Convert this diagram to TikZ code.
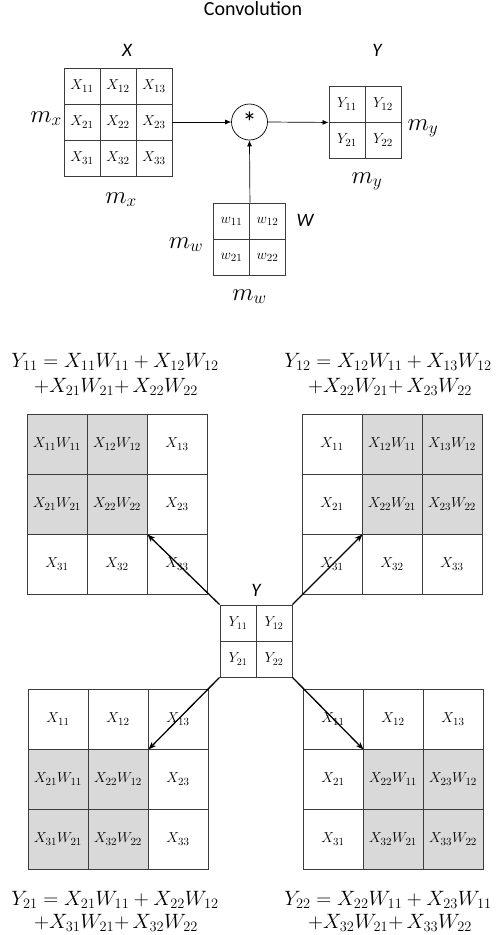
\documentclass[tikz,border=0pt]{standalone}
\usepackage{fontspec}
\newfontfamily\labelfont{Carlito}
\usetikzlibrary{arrows.meta, positioning}
\definecolor{gridgray}{RGB}{60, 60, 60}
\definecolor{shadegray}{RGB}{217, 217, 217}

\begin{document}
\begin{tikzpicture}[x=1pt, y=-1pt,
  cell/.style={draw=gridgray, line width=0.9pt, minimum size=36pt, inner sep=0pt, font=\fontsize{15.5}{17}\selectfont},
  bigcell/.style={cell, minimum size=60pt, font=\fontsize{15}{17}\selectfont},
  shaded/.style={fill=shadegray},
  matlabel/.style={font=\labelfont\itshape\fontsize{19}{22}\selectfont},
  dimlabel/.style={anchor=base, font=\fontsize{24}{26}\selectfont},
  eqline/.style={anchor=base, font=\fontsize{22.5}{26}\selectfont},
  thinarrow/.style={-{Latex[length=6pt, width=5pt]}, line width=0.7pt},
  thickarrow/.style={-{Stealth[length=8pt, width=6pt]}, line width=1.3pt}
]
  \useasboundingbox (0,0) rectangle (503,935);

  % Title
  \node[anchor=base, font=\labelfont\fontsize{20}{22}\selectfont] (title) at (253, 15) {Convolution};

  % Input X
  \node[matlabel] (xname) at (127, 50) {X};
  \node[cell] (x11) at (82, 86) {$X_{11}$};
  \node[cell] (x12) at (118, 86) {$X_{12}$};
  \node[cell] (x13) at (154, 86) {$X_{13}$};
  \node[cell] (x21) at (82, 122) {$X_{21}$};
  \node[cell] (x22) at (118, 122) {$X_{22}$};
  \node[cell] (x23) at (154, 122) {$X_{23}$};
  \node[cell] (x31) at (82, 158) {$X_{31}$};
  \node[cell] (x32) at (118, 158) {$X_{32}$};
  \node[cell] (x33) at (154, 158) {$X_{33}$};
  \node[dimlabel] (mxleft) at (46, 122) {$m_x$};
  \node[dimlabel] (mxbelow) at (121, 203) {$m_x$};

  % Convolution operator
  \node[draw, circle, minimum size=36pt, inner sep=0pt, line width=0.7pt, font=\labelfont\fontsize{29}{29}\selectfont] (conv) at (249.5, 122) {*};

  % Output Y
  \node[matlabel] (yname) at (377, 50) {Y};
  \node[cell] (y11) at (347, 104) {$Y_{11}$};
  \node[cell] (y12) at (383, 104) {$Y_{12}$};
  \node[cell] (y21) at (347, 140) {$Y_{21}$};
  \node[cell] (y22) at (383, 140) {$Y_{22}$};
  \node[dimlabel] (myright) at (423, 130) {$m_y$};
  \node[dimlabel] (mybelow) at (367, 183) {$m_y$};

  % Kernel W
  \node[matlabel] (wname) at (305, 220) {W};
  \node[cell] (w11) at (231.5, 221) {$w_{11}$};
  \node[cell] (w12) at (267.5, 221) {$w_{12}$};
  \node[cell] (w21) at (231.5, 257) {$w_{21}$};
  \node[cell] (w22) at (267.5, 257) {$w_{22}$};
  \node[dimlabel] (mwleft) at (186, 248) {$m_w$};
  \node[dimlabel] (mwbelow) at (249.5, 300) {$m_w$};

  \draw[thinarrow] (x23.east) -- (conv.west);
  \draw[thinarrow] (conv.east) -- (y11.south west);
  \draw[thinarrow] (w11.north east) -- (conv.south);

  % Y11 window
  \node[eqline] (eq11a) at (115, 367) {$Y_{11} = X_{11}W_{11} + X_{12}W_{12}$};
  \node[eqline] (eq11b) at (116, 392) {$+X_{21}W_{21}{+}\,X_{22}W_{22}$};
  \node[bigcell, shaded] (tl11) at (57, 444) {$X_{11}W_{11}$};
  \node[bigcell, shaded] (tl12) at (117, 444) {$X_{12}W_{12}$};
  \node[bigcell] (tl13) at (177, 444) {$X_{13}$};
  \node[bigcell, shaded] (tl21) at (57, 504) {$X_{21}W_{21}$};
  \node[bigcell, shaded] (tl22) at (117, 504) {$X_{22}W_{22}$};
  \node[bigcell] (tl23) at (177, 504) {$X_{23}$};
  \node[bigcell] (tl31) at (57, 564) {$X_{31}$};
  \node[bigcell] (tl32) at (117, 564) {$X_{32}$};
  \node[bigcell] (tl33) at (177, 564) {$X_{33}$};

  % Y12 window
  \node[eqline] (eq12a) at (388, 367) {$Y_{12} = X_{12}W_{11} + X_{13}W_{12}$};
  \node[eqline] (eq12b) at (390, 392) {$+X_{22}W_{21}{+}\,X_{23}W_{22}$};
  \node[bigcell] (tr11) at (332, 444) {$X_{11}$};
  \node[bigcell, shaded] (tr12) at (392, 444) {$X_{12}W_{11}$};
  \node[bigcell, shaded] (tr13) at (452, 444) {$X_{13}W_{12}$};
  \node[bigcell] (tr21) at (332, 504) {$X_{21}$};
  \node[bigcell, shaded] (tr22) at (392, 504) {$X_{22}W_{21}$};
  \node[bigcell, shaded] (tr23) at (452, 504) {$X_{23}W_{22}$};
  \node[bigcell] (tr31) at (332, 564) {$X_{31}$};
  \node[bigcell] (tr32) at (392, 564) {$X_{32}$};
  \node[bigcell] (tr33) at (452, 564) {$X_{33}$};

  % Output Y in the middle
  \node[matlabel] (ycname) at (256, 590) {Y};
  \node[cell, font=\fontsize{14.5}{16}\selectfont] (yc11) at (238, 623) {$Y_{11}$};
  \node[cell, font=\fontsize{14.5}{16}\selectfont] (yc12) at (274, 623) {$Y_{12}$};
  \node[cell, font=\fontsize{14.5}{16}\selectfont] (yc21) at (238, 659) {$Y_{21}$};
  \node[cell, font=\fontsize{14.5}{16}\selectfont] (yc22) at (274, 659) {$Y_{22}$};

  % Y21 window
  \node[bigcell] (bl11) at (58, 719) {$X_{11}$};
  \node[bigcell] (bl12) at (118, 719) {$X_{12}$};
  \node[bigcell] (bl13) at (178, 719) {$X_{13}$};
  \node[bigcell, shaded] (bl21) at (58, 779) {$X_{21}W_{11}$};
  \node[bigcell, shaded] (bl22) at (118, 779) {$X_{22}W_{12}$};
  \node[bigcell] (bl23) at (178, 779) {$X_{23}$};
  \node[bigcell, shaded] (bl31) at (58, 839) {$X_{31}W_{21}$};
  \node[bigcell, shaded] (bl32) at (118, 839) {$X_{32}W_{22}$};
  \node[bigcell] (bl33) at (178, 839) {$X_{33}$};
  \node[eqline] (eq21a) at (115, 905) {$Y_{21} = X_{21}W_{11} + X_{22}W_{12}$};
  \node[eqline] (eq21b) at (116, 928) {$+X_{31}W_{21}{+}\,X_{32}W_{22}$};

  % Y22 window
  \node[bigcell] (br11) at (333, 719) {$X_{11}$};
  \node[bigcell] (br12) at (393, 719) {$X_{12}$};
  \node[bigcell] (br13) at (453, 719) {$X_{13}$};
  \node[bigcell] (br21) at (333, 779) {$X_{21}$};
  \node[bigcell, shaded] (br22) at (393, 779) {$X_{22}W_{11}$};
  \node[bigcell, shaded] (br23) at (453, 779) {$X_{23}W_{12}$};
  \node[bigcell] (br31) at (333, 839) {$X_{31}$};
  \node[bigcell, shaded] (br32) at (393, 839) {$X_{32}W_{21}$};
  \node[bigcell, shaded] (br33) at (453, 839) {$X_{33}W_{22}$};
  \node[eqline] (eq22a) at (388, 905) {$Y_{22} = X_{22}W_{11} + X_{23}W_{11}$};
  \node[eqline] (eq22b) at (390, 928) {$+X_{32}W_{21}{+}\,X_{33}W_{22}$};

  \draw[thickarrow] (yc11.north west) -- (tl22.south east);
  \draw[thickarrow] (yc12.north east) -- (tr21.south east);
  \draw[thickarrow] (yc21.south west) -- (bl12.south east);
  \draw[thickarrow] (yc22.south east) -- (br11.south east);
\end{tikzpicture}
\end{document}
